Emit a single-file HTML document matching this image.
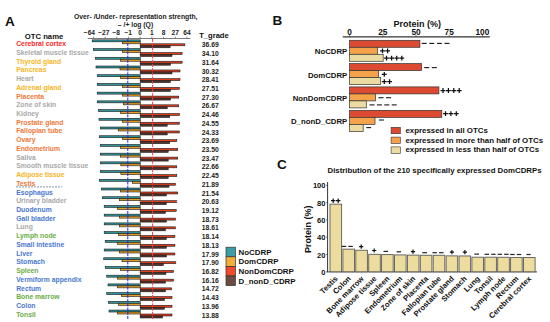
<!DOCTYPE html><html><head><meta charset="utf-8"><style>html,body{margin:0;padding:0;background:#fff;width:550px;height:322px;overflow:hidden}svg{display:block}</style></head><body>
<svg width="550" height="322" viewBox="0 0 550 322">
<text x="5" y="25.9" font-family="Liberation Sans" font-weight="bold" font-size="13.5" fill="#111">A</text>
<text x="272.5" y="25.3" font-family="Liberation Sans" font-weight="bold" font-size="13.5" fill="#111">B</text>
<text x="276.9" y="168.5" font-family="Liberation Sans" font-weight="bold" font-size="13.5" fill="#111">C</text>
<text x="74" y="19.2" font-family="Liberation Sans" font-weight="bold" font-size="6.8" fill="#222">Over- /Under- representation strength,</text>
<text x="135.5" y="26.8" font-family="Liberation Sans" font-weight="bold" font-size="6.8" fill="#222" text-anchor="middle">– /+ log (Q)</text>
<text x="83.80" y="34.8" font-family="Liberation Sans" font-weight="bold" font-size="6.6" fill="#222">−64</text>
<text x="98.20" y="34.8" font-family="Liberation Sans" font-weight="bold" font-size="6.6" fill="#222">−27</text>
<text x="112.40" y="34.8" font-family="Liberation Sans" font-weight="bold" font-size="6.6" fill="#222">−8</text>
<text x="124.40" y="34.8" font-family="Liberation Sans" font-weight="bold" font-size="6.6" fill="#222">−1</text>
<text x="140.20" y="34.8" font-family="Liberation Sans" font-weight="bold" font-size="6.6" fill="#222" text-anchor="middle">0</text>
<text x="151.88" y="34.8" font-family="Liberation Sans" font-weight="bold" font-size="6.6" fill="#222" text-anchor="middle">1</text>
<text x="163.56" y="34.8" font-family="Liberation Sans" font-weight="bold" font-size="6.6" fill="#222" text-anchor="middle">8</text>
<text x="175.24" y="34.8" font-family="Liberation Sans" font-weight="bold" font-size="6.6" fill="#222" text-anchor="middle">27</text>
<text x="186.92" y="34.8" font-family="Liberation Sans" font-weight="bold" font-size="6.6" fill="#222" text-anchor="middle">64</text>
<line x1="93.48" y1="36.6" x2="93.48" y2="38.6" stroke="#444" stroke-width="0.6"/>
<line x1="105.16" y1="36.6" x2="105.16" y2="38.6" stroke="#444" stroke-width="0.6"/>
<line x1="116.84" y1="36.6" x2="116.84" y2="38.6" stroke="#444" stroke-width="0.6"/>
<line x1="128.52" y1="36.6" x2="128.52" y2="38.6" stroke="#444" stroke-width="0.6"/>
<line x1="140.20" y1="36.6" x2="140.20" y2="38.6" stroke="#444" stroke-width="0.6"/>
<line x1="151.88" y1="36.6" x2="151.88" y2="38.6" stroke="#444" stroke-width="0.6"/>
<line x1="163.56" y1="36.6" x2="163.56" y2="38.6" stroke="#444" stroke-width="0.6"/>
<line x1="175.24" y1="36.6" x2="175.24" y2="38.6" stroke="#444" stroke-width="0.6"/>
<line x1="186.92" y1="36.6" x2="186.92" y2="38.6" stroke="#444" stroke-width="0.6"/>
<line x1="87.8" y1="38.5" x2="190.5" y2="38.5" stroke="#444" stroke-width="0.7"/>
<text x="24.8" y="39" font-family="Liberation Sans" font-weight="bold" font-size="7.7" fill="#111">OTC name</text>
<text x="199.2" y="38.4" font-family="Liberation Sans" font-weight="bold" font-size="7.6" fill="#111">T_grade</text>
<rect x="92.20" y="39.85" width="48.00" height="1.98" fill="#2e9296" stroke="#1c1c1c" stroke-width="0.6"/>
<rect x="122.40" y="41.83" width="17.80" height="1.98" fill="#e89e22" stroke="#1c1c1c" stroke-width="0.6"/>
<rect x="140.20" y="43.81" width="44.60" height="1.98" fill="#e03c1e" stroke="#1c1c1c" stroke-width="0.6"/>
<rect x="140.20" y="45.79" width="29.90" height="1.98" fill="#52342a" stroke="#1c1c1c" stroke-width="0.6"/>
<text x="16.2" y="46.20" font-family="Liberation Sans" font-weight="bold" font-size="6.8" fill="#fa2a2a">Cerebral cortex</text>
<text x="201.8" y="47.40" font-family="Liberation Sans" font-weight="bold" font-size="6.8" fill="#222">36.69</text>
<rect x="93.30" y="48.57" width="46.90" height="1.98" fill="#2e9296" stroke="#1c1c1c" stroke-width="0.6"/>
<rect x="122.40" y="50.55" width="17.80" height="1.98" fill="#e89e22" stroke="#1c1c1c" stroke-width="0.6"/>
<rect x="140.20" y="52.53" width="41.90" height="1.98" fill="#e03c1e" stroke="#1c1c1c" stroke-width="0.6"/>
<rect x="140.20" y="54.51" width="31.80" height="1.98" fill="#52342a" stroke="#1c1c1c" stroke-width="0.6"/>
<text x="16.2" y="54.93" font-family="Liberation Sans" font-weight="bold" font-size="6.8" fill="#a9a9a9">Skeletal muscle tissue</text>
<text x="201.8" y="56.12" font-family="Liberation Sans" font-weight="bold" font-size="6.8" fill="#222">34.10</text>
<rect x="95.30" y="57.28" width="44.90" height="1.98" fill="#2e9296" stroke="#1c1c1c" stroke-width="0.6"/>
<rect x="120.50" y="59.26" width="19.70" height="1.98" fill="#e89e22" stroke="#1c1c1c" stroke-width="0.6"/>
<rect x="140.20" y="61.24" width="41.90" height="1.98" fill="#e03c1e" stroke="#1c1c1c" stroke-width="0.6"/>
<rect x="140.20" y="63.22" width="30.30" height="1.98" fill="#52342a" stroke="#1c1c1c" stroke-width="0.6"/>
<text x="16.2" y="63.65" font-family="Liberation Sans" font-weight="bold" font-size="6.8" fill="#f7b51e">Thyroid gland</text>
<text x="201.8" y="64.83" font-family="Liberation Sans" font-weight="bold" font-size="6.8" fill="#222">31.64</text>
<rect x="96.00" y="66.00" width="44.20" height="1.98" fill="#2e9296" stroke="#1c1c1c" stroke-width="0.6"/>
<rect x="120.00" y="67.98" width="20.20" height="1.98" fill="#e89e22" stroke="#1c1c1c" stroke-width="0.6"/>
<rect x="140.20" y="69.96" width="39.80" height="1.98" fill="#e03c1e" stroke="#1c1c1c" stroke-width="0.6"/>
<rect x="140.20" y="71.94" width="31.80" height="1.98" fill="#52342a" stroke="#1c1c1c" stroke-width="0.6"/>
<text x="16.2" y="72.38" font-family="Liberation Sans" font-weight="bold" font-size="6.8" fill="#f7b51e">Pancreas</text>
<text x="201.8" y="73.55" font-family="Liberation Sans" font-weight="bold" font-size="6.8" fill="#222">30.32</text>
<rect x="97.20" y="74.71" width="43.00" height="1.98" fill="#2e9296" stroke="#1c1c1c" stroke-width="0.6"/>
<rect x="120.50" y="76.69" width="19.70" height="1.98" fill="#e89e22" stroke="#1c1c1c" stroke-width="0.6"/>
<rect x="140.20" y="78.67" width="39.80" height="1.98" fill="#e03c1e" stroke="#1c1c1c" stroke-width="0.6"/>
<rect x="140.20" y="80.65" width="30.30" height="1.98" fill="#52342a" stroke="#1c1c1c" stroke-width="0.6"/>
<text x="16.2" y="81.10" font-family="Liberation Sans" font-weight="bold" font-size="6.8" fill="#a9a9a9">Heart</text>
<text x="201.8" y="82.26" font-family="Liberation Sans" font-weight="bold" font-size="6.8" fill="#222">28.41</text>
<rect x="97.20" y="83.43" width="43.00" height="1.98" fill="#2e9296" stroke="#1c1c1c" stroke-width="0.6"/>
<rect x="122.40" y="85.41" width="17.80" height="1.98" fill="#e89e22" stroke="#1c1c1c" stroke-width="0.6"/>
<rect x="140.20" y="87.39" width="39.10" height="1.98" fill="#e03c1e" stroke="#1c1c1c" stroke-width="0.6"/>
<rect x="140.20" y="89.37" width="30.30" height="1.98" fill="#52342a" stroke="#1c1c1c" stroke-width="0.6"/>
<text x="16.2" y="89.83" font-family="Liberation Sans" font-weight="bold" font-size="6.8" fill="#f7b51e">Adrenal gland</text>
<text x="201.8" y="90.98" font-family="Liberation Sans" font-weight="bold" font-size="6.8" fill="#222">27.51</text>
<rect x="97.20" y="92.15" width="43.00" height="1.98" fill="#2e9296" stroke="#1c1c1c" stroke-width="0.6"/>
<rect x="122.40" y="94.13" width="17.80" height="1.98" fill="#e89e22" stroke="#1c1c1c" stroke-width="0.6"/>
<rect x="140.20" y="96.11" width="38.50" height="1.98" fill="#e03c1e" stroke="#1c1c1c" stroke-width="0.6"/>
<rect x="140.20" y="98.09" width="30.30" height="1.98" fill="#52342a" stroke="#1c1c1c" stroke-width="0.6"/>
<text x="16.2" y="98.55" font-family="Liberation Sans" font-weight="bold" font-size="6.8" fill="#f07838">Placenta</text>
<text x="201.8" y="99.70" font-family="Liberation Sans" font-weight="bold" font-size="6.8" fill="#222">27.30</text>
<rect x="97.20" y="100.86" width="43.00" height="1.98" fill="#2e9296" stroke="#1c1c1c" stroke-width="0.6"/>
<rect x="123.30" y="102.84" width="16.90" height="1.98" fill="#e89e22" stroke="#1c1c1c" stroke-width="0.6"/>
<rect x="140.20" y="104.82" width="38.50" height="1.98" fill="#e03c1e" stroke="#1c1c1c" stroke-width="0.6"/>
<rect x="140.20" y="106.80" width="27.00" height="1.98" fill="#52342a" stroke="#1c1c1c" stroke-width="0.6"/>
<text x="16.2" y="107.28" font-family="Liberation Sans" font-weight="bold" font-size="6.8" fill="#a9a9a9">Zone of skin</text>
<text x="201.8" y="108.41" font-family="Liberation Sans" font-weight="bold" font-size="6.8" fill="#222">26.67</text>
<rect x="98.50" y="109.58" width="41.70" height="1.98" fill="#2e9296" stroke="#1c1c1c" stroke-width="0.6"/>
<rect x="120.50" y="111.56" width="19.70" height="1.98" fill="#e89e22" stroke="#1c1c1c" stroke-width="0.6"/>
<rect x="140.20" y="113.54" width="39.40" height="1.98" fill="#e03c1e" stroke="#1c1c1c" stroke-width="0.6"/>
<rect x="140.20" y="115.52" width="29.50" height="1.98" fill="#52342a" stroke="#1c1c1c" stroke-width="0.6"/>
<text x="16.2" y="116.00" font-family="Liberation Sans" font-weight="bold" font-size="6.8" fill="#a9a9a9">Kidney</text>
<text x="201.8" y="117.13" font-family="Liberation Sans" font-weight="bold" font-size="6.8" fill="#222">24.46</text>
<rect x="99.00" y="118.29" width="41.20" height="1.98" fill="#2e9296" stroke="#1c1c1c" stroke-width="0.6"/>
<rect x="122.40" y="120.27" width="17.80" height="1.98" fill="#e89e22" stroke="#1c1c1c" stroke-width="0.6"/>
<rect x="140.20" y="122.25" width="39.10" height="1.98" fill="#e03c1e" stroke="#1c1c1c" stroke-width="0.6"/>
<rect x="140.20" y="124.23" width="27.00" height="1.98" fill="#52342a" stroke="#1c1c1c" stroke-width="0.6"/>
<text x="16.2" y="124.72" font-family="Liberation Sans" font-weight="bold" font-size="6.8" fill="#f07838">Prostate gland</text>
<text x="201.8" y="125.84" font-family="Liberation Sans" font-weight="bold" font-size="6.8" fill="#222">24.55</text>
<rect x="100.40" y="127.01" width="39.80" height="1.98" fill="#2e9296" stroke="#1c1c1c" stroke-width="0.6"/>
<rect x="118.20" y="128.99" width="22.00" height="1.98" fill="#e89e22" stroke="#1c1c1c" stroke-width="0.6"/>
<rect x="140.20" y="130.97" width="39.10" height="1.98" fill="#e03c1e" stroke="#1c1c1c" stroke-width="0.6"/>
<rect x="140.20" y="132.95" width="27.00" height="1.98" fill="#52342a" stroke="#1c1c1c" stroke-width="0.6"/>
<text x="16.2" y="133.45" font-family="Liberation Sans" font-weight="bold" font-size="6.8" fill="#f07838">Fallopian tube</text>
<text x="201.8" y="134.56" font-family="Liberation Sans" font-weight="bold" font-size="6.8" fill="#222">24.33</text>
<rect x="99.50" y="135.73" width="40.70" height="1.98" fill="#2e9296" stroke="#1c1c1c" stroke-width="0.6"/>
<rect x="122.40" y="137.71" width="17.80" height="1.98" fill="#e89e22" stroke="#1c1c1c" stroke-width="0.6"/>
<rect x="140.20" y="139.69" width="36.60" height="1.98" fill="#e03c1e" stroke="#1c1c1c" stroke-width="0.6"/>
<rect x="140.20" y="141.67" width="29.50" height="1.98" fill="#52342a" stroke="#1c1c1c" stroke-width="0.6"/>
<text x="16.2" y="142.18" font-family="Liberation Sans" font-weight="bold" font-size="6.8" fill="#f07838">Ovary</text>
<text x="201.8" y="143.28" font-family="Liberation Sans" font-weight="bold" font-size="6.8" fill="#222">23.69</text>
<rect x="100.40" y="144.44" width="39.80" height="1.98" fill="#2e9296" stroke="#1c1c1c" stroke-width="0.6"/>
<rect x="120.50" y="146.42" width="19.70" height="1.98" fill="#e89e22" stroke="#1c1c1c" stroke-width="0.6"/>
<rect x="140.20" y="148.40" width="37.50" height="1.98" fill="#e03c1e" stroke="#1c1c1c" stroke-width="0.6"/>
<rect x="140.20" y="150.38" width="28.00" height="1.98" fill="#52342a" stroke="#1c1c1c" stroke-width="0.6"/>
<text x="16.2" y="150.90" font-family="Liberation Sans" font-weight="bold" font-size="6.8" fill="#f07838">Endometrium</text>
<text x="201.8" y="151.99" font-family="Liberation Sans" font-weight="bold" font-size="6.8" fill="#222">23.50</text>
<rect x="100.40" y="153.16" width="39.80" height="1.98" fill="#2e9296" stroke="#1c1c1c" stroke-width="0.6"/>
<rect x="120.50" y="155.14" width="19.70" height="1.98" fill="#e89e22" stroke="#1c1c1c" stroke-width="0.6"/>
<rect x="140.20" y="157.12" width="37.50" height="1.98" fill="#e03c1e" stroke="#1c1c1c" stroke-width="0.6"/>
<rect x="140.20" y="159.10" width="28.00" height="1.98" fill="#52342a" stroke="#1c1c1c" stroke-width="0.6"/>
<text x="16.2" y="159.62" font-family="Liberation Sans" font-weight="bold" font-size="6.8" fill="#a9a9a9">Saliva</text>
<text x="201.8" y="160.71" font-family="Liberation Sans" font-weight="bold" font-size="6.8" fill="#222">23.47</text>
<rect x="100.40" y="161.87" width="39.80" height="1.98" fill="#2e9296" stroke="#1c1c1c" stroke-width="0.6"/>
<rect x="120.80" y="163.85" width="19.40" height="1.98" fill="#e89e22" stroke="#1c1c1c" stroke-width="0.6"/>
<rect x="140.20" y="165.83" width="36.60" height="1.98" fill="#e03c1e" stroke="#1c1c1c" stroke-width="0.6"/>
<rect x="140.20" y="167.81" width="28.00" height="1.98" fill="#52342a" stroke="#1c1c1c" stroke-width="0.6"/>
<text x="16.2" y="168.35" font-family="Liberation Sans" font-weight="bold" font-size="6.8" fill="#a9a9a9">Smooth muscle tissue</text>
<text x="201.8" y="169.42" font-family="Liberation Sans" font-weight="bold" font-size="6.8" fill="#222">22.66</text>
<rect x="100.40" y="170.59" width="39.80" height="1.98" fill="#2e9296" stroke="#1c1c1c" stroke-width="0.6"/>
<rect x="120.80" y="172.57" width="19.40" height="1.98" fill="#e89e22" stroke="#1c1c1c" stroke-width="0.6"/>
<rect x="140.20" y="174.55" width="36.60" height="1.98" fill="#e03c1e" stroke="#1c1c1c" stroke-width="0.6"/>
<rect x="140.20" y="176.53" width="28.00" height="1.98" fill="#52342a" stroke="#1c1c1c" stroke-width="0.6"/>
<text x="16.2" y="177.07" font-family="Liberation Sans" font-weight="bold" font-size="6.8" fill="#f7b51e">Adipose tissue</text>
<text x="201.8" y="178.14" font-family="Liberation Sans" font-weight="bold" font-size="6.8" fill="#222">22.45</text>
<rect x="99.50" y="179.31" width="40.70" height="1.98" fill="#2e9296" stroke="#1c1c1c" stroke-width="0.6"/>
<rect x="132.30" y="181.29" width="7.90" height="1.98" fill="#e89e22" stroke="#1c1c1c" stroke-width="0.6"/>
<rect x="140.20" y="183.27" width="35.20" height="1.98" fill="#e03c1e" stroke="#1c1c1c" stroke-width="0.6"/>
<rect x="140.20" y="185.25" width="28.80" height="1.98" fill="#52342a" stroke="#1c1c1c" stroke-width="0.6"/>
<text x="16.2" y="185.80" font-family="Liberation Sans" font-weight="bold" font-size="6.8" fill="#f07838">Testis</text>
<text x="201.8" y="186.86" font-family="Liberation Sans" font-weight="bold" font-size="6.8" fill="#222">21.89</text>
<rect x="101.40" y="188.02" width="38.80" height="1.98" fill="#2e9296" stroke="#1c1c1c" stroke-width="0.6"/>
<rect x="120.50" y="190.00" width="19.70" height="1.98" fill="#e89e22" stroke="#1c1c1c" stroke-width="0.6"/>
<rect x="140.20" y="191.98" width="37.50" height="1.98" fill="#e03c1e" stroke="#1c1c1c" stroke-width="0.6"/>
<rect x="140.20" y="193.96" width="26.10" height="1.98" fill="#52342a" stroke="#1c1c1c" stroke-width="0.6"/>
<text x="16.2" y="194.52" font-family="Liberation Sans" font-weight="bold" font-size="6.8" fill="#4878d0">Esophagus</text>
<text x="201.8" y="195.57" font-family="Liberation Sans" font-weight="bold" font-size="6.8" fill="#222">21.54</text>
<rect x="102.30" y="196.74" width="37.90" height="1.98" fill="#2e9296" stroke="#1c1c1c" stroke-width="0.6"/>
<rect x="119.50" y="198.72" width="20.70" height="1.98" fill="#e89e22" stroke="#1c1c1c" stroke-width="0.6"/>
<rect x="140.20" y="200.70" width="36.60" height="1.98" fill="#e03c1e" stroke="#1c1c1c" stroke-width="0.6"/>
<rect x="140.20" y="202.68" width="26.10" height="1.98" fill="#52342a" stroke="#1c1c1c" stroke-width="0.6"/>
<text x="16.2" y="203.25" font-family="Liberation Sans" font-weight="bold" font-size="6.8" fill="#a9a9a9">Urinary bladder</text>
<text x="201.8" y="204.29" font-family="Liberation Sans" font-weight="bold" font-size="6.8" fill="#222">20.63</text>
<rect x="104.20" y="205.45" width="36.00" height="1.98" fill="#2e9296" stroke="#1c1c1c" stroke-width="0.6"/>
<rect x="117.60" y="207.43" width="22.60" height="1.98" fill="#e89e22" stroke="#1c1c1c" stroke-width="0.6"/>
<rect x="140.20" y="209.41" width="36.00" height="1.98" fill="#e03c1e" stroke="#1c1c1c" stroke-width="0.6"/>
<rect x="140.20" y="211.39" width="25.10" height="1.98" fill="#52342a" stroke="#1c1c1c" stroke-width="0.6"/>
<text x="16.2" y="211.98" font-family="Liberation Sans" font-weight="bold" font-size="6.8" fill="#4878d0">Duodenum</text>
<text x="201.8" y="213.00" font-family="Liberation Sans" font-weight="bold" font-size="6.8" fill="#222">19.12</text>
<rect x="104.20" y="214.17" width="36.00" height="1.98" fill="#2e9296" stroke="#1c1c1c" stroke-width="0.6"/>
<rect x="119.50" y="216.15" width="20.70" height="1.98" fill="#e89e22" stroke="#1c1c1c" stroke-width="0.6"/>
<rect x="140.20" y="218.13" width="35.20" height="1.98" fill="#e03c1e" stroke="#1c1c1c" stroke-width="0.6"/>
<rect x="140.20" y="220.11" width="26.10" height="1.98" fill="#52342a" stroke="#1c1c1c" stroke-width="0.6"/>
<text x="16.2" y="220.70" font-family="Liberation Sans" font-weight="bold" font-size="6.8" fill="#4878d0">Gall bladder</text>
<text x="201.8" y="221.72" font-family="Liberation Sans" font-weight="bold" font-size="6.8" fill="#222">18.73</text>
<rect x="104.20" y="222.89" width="36.00" height="1.98" fill="#2e9296" stroke="#1c1c1c" stroke-width="0.6"/>
<rect x="119.50" y="224.87" width="20.70" height="1.98" fill="#e89e22" stroke="#1c1c1c" stroke-width="0.6"/>
<rect x="140.20" y="226.85" width="35.20" height="1.98" fill="#e03c1e" stroke="#1c1c1c" stroke-width="0.6"/>
<rect x="140.20" y="228.83" width="25.10" height="1.98" fill="#52342a" stroke="#1c1c1c" stroke-width="0.6"/>
<text x="16.2" y="229.43" font-family="Liberation Sans" font-weight="bold" font-size="6.8" fill="#a9a9a9">Lung</text>
<text x="201.8" y="230.44" font-family="Liberation Sans" font-weight="bold" font-size="6.8" fill="#222">18.61</text>
<rect x="104.20" y="231.60" width="36.00" height="1.98" fill="#2e9296" stroke="#1c1c1c" stroke-width="0.6"/>
<rect x="118.50" y="233.58" width="21.70" height="1.98" fill="#e89e22" stroke="#1c1c1c" stroke-width="0.6"/>
<rect x="140.20" y="235.56" width="34.70" height="1.98" fill="#e03c1e" stroke="#1c1c1c" stroke-width="0.6"/>
<rect x="140.20" y="237.54" width="26.10" height="1.98" fill="#52342a" stroke="#1c1c1c" stroke-width="0.6"/>
<text x="16.2" y="238.15" font-family="Liberation Sans" font-weight="bold" font-size="6.8" fill="#6aae48">Lymph node</text>
<text x="201.8" y="239.15" font-family="Liberation Sans" font-weight="bold" font-size="6.8" fill="#222">18.14</text>
<rect x="105.20" y="240.32" width="35.00" height="1.98" fill="#2e9296" stroke="#1c1c1c" stroke-width="0.6"/>
<rect x="117.60" y="242.30" width="22.60" height="1.98" fill="#e89e22" stroke="#1c1c1c" stroke-width="0.6"/>
<rect x="140.20" y="244.28" width="34.70" height="1.98" fill="#e03c1e" stroke="#1c1c1c" stroke-width="0.6"/>
<rect x="140.20" y="246.26" width="26.10" height="1.98" fill="#52342a" stroke="#1c1c1c" stroke-width="0.6"/>
<text x="16.2" y="246.88" font-family="Liberation Sans" font-weight="bold" font-size="6.8" fill="#4878d0">Small intestine</text>
<text x="201.8" y="247.87" font-family="Liberation Sans" font-weight="bold" font-size="6.8" fill="#222">18.13</text>
<rect x="104.20" y="249.03" width="36.00" height="1.98" fill="#2e9296" stroke="#1c1c1c" stroke-width="0.6"/>
<rect x="119.50" y="251.01" width="20.70" height="1.98" fill="#e89e22" stroke="#1c1c1c" stroke-width="0.6"/>
<rect x="140.20" y="252.99" width="34.70" height="1.98" fill="#e03c1e" stroke="#1c1c1c" stroke-width="0.6"/>
<rect x="140.20" y="254.97" width="26.10" height="1.98" fill="#52342a" stroke="#1c1c1c" stroke-width="0.6"/>
<text x="16.2" y="255.60" font-family="Liberation Sans" font-weight="bold" font-size="6.8" fill="#4878d0">Liver</text>
<text x="201.8" y="256.58" font-family="Liberation Sans" font-weight="bold" font-size="6.8" fill="#222">17.99</text>
<rect x="103.70" y="257.75" width="36.50" height="1.98" fill="#2e9296" stroke="#1c1c1c" stroke-width="0.6"/>
<rect x="122.00" y="259.73" width="18.20" height="1.98" fill="#e89e22" stroke="#1c1c1c" stroke-width="0.6"/>
<rect x="140.20" y="261.71" width="35.60" height="1.98" fill="#e03c1e" stroke="#1c1c1c" stroke-width="0.6"/>
<rect x="140.20" y="263.69" width="23.20" height="1.98" fill="#52342a" stroke="#1c1c1c" stroke-width="0.6"/>
<text x="16.2" y="264.32" font-family="Liberation Sans" font-weight="bold" font-size="6.8" fill="#4878d0">Stomach</text>
<text x="201.8" y="265.30" font-family="Liberation Sans" font-weight="bold" font-size="6.8" fill="#222">17.90</text>
<rect x="105.20" y="266.47" width="35.00" height="1.98" fill="#2e9296" stroke="#1c1c1c" stroke-width="0.6"/>
<rect x="120.50" y="268.45" width="19.70" height="1.98" fill="#e89e22" stroke="#1c1c1c" stroke-width="0.6"/>
<rect x="140.20" y="270.43" width="33.30" height="1.98" fill="#e03c1e" stroke="#1c1c1c" stroke-width="0.6"/>
<rect x="140.20" y="272.41" width="25.70" height="1.98" fill="#52342a" stroke="#1c1c1c" stroke-width="0.6"/>
<text x="16.2" y="273.05" font-family="Liberation Sans" font-weight="bold" font-size="6.8" fill="#6aae48">Spleen</text>
<text x="201.8" y="274.02" font-family="Liberation Sans" font-weight="bold" font-size="6.8" fill="#222">16.82</text>
<rect x="106.70" y="275.18" width="33.50" height="1.98" fill="#2e9296" stroke="#1c1c1c" stroke-width="0.6"/>
<rect x="117.60" y="277.16" width="22.60" height="1.98" fill="#e89e22" stroke="#1c1c1c" stroke-width="0.6"/>
<rect x="140.20" y="279.14" width="33.30" height="1.98" fill="#e03c1e" stroke="#1c1c1c" stroke-width="0.6"/>
<rect x="140.20" y="281.12" width="25.10" height="1.98" fill="#52342a" stroke="#1c1c1c" stroke-width="0.6"/>
<text x="16.2" y="281.77" font-family="Liberation Sans" font-weight="bold" font-size="6.8" fill="#4878d0">Vermiform appendix</text>
<text x="201.8" y="282.73" font-family="Liberation Sans" font-weight="bold" font-size="6.8" fill="#222">16.16</text>
<rect x="108.00" y="283.90" width="32.20" height="1.98" fill="#2e9296" stroke="#1c1c1c" stroke-width="0.6"/>
<rect x="117.60" y="285.88" width="22.60" height="1.98" fill="#e89e22" stroke="#1c1c1c" stroke-width="0.6"/>
<rect x="140.20" y="287.86" width="31.40" height="1.98" fill="#e03c1e" stroke="#1c1c1c" stroke-width="0.6"/>
<rect x="140.20" y="289.84" width="25.10" height="1.98" fill="#52342a" stroke="#1c1c1c" stroke-width="0.6"/>
<text x="16.2" y="290.50" font-family="Liberation Sans" font-weight="bold" font-size="6.8" fill="#4878d0">Rectum</text>
<text x="201.8" y="291.45" font-family="Liberation Sans" font-weight="bold" font-size="6.8" fill="#222">14.72</text>
<rect x="106.70" y="292.61" width="33.50" height="1.98" fill="#2e9296" stroke="#1c1c1c" stroke-width="0.6"/>
<rect x="121.40" y="294.59" width="18.80" height="1.98" fill="#e89e22" stroke="#1c1c1c" stroke-width="0.6"/>
<rect x="140.20" y="296.57" width="31.80" height="1.98" fill="#e03c1e" stroke="#1c1c1c" stroke-width="0.6"/>
<rect x="140.20" y="298.55" width="24.20" height="1.98" fill="#52342a" stroke="#1c1c1c" stroke-width="0.6"/>
<text x="16.2" y="299.22" font-family="Liberation Sans" font-weight="bold" font-size="6.8" fill="#6aae48">Bone marrow</text>
<text x="201.8" y="300.16" font-family="Liberation Sans" font-weight="bold" font-size="6.8" fill="#222">14.43</text>
<rect x="108.60" y="301.33" width="31.60" height="1.98" fill="#2e9296" stroke="#1c1c1c" stroke-width="0.6"/>
<rect x="118.50" y="303.31" width="21.70" height="1.98" fill="#e89e22" stroke="#1c1c1c" stroke-width="0.6"/>
<rect x="140.20" y="305.29" width="31.80" height="1.98" fill="#e03c1e" stroke="#1c1c1c" stroke-width="0.6"/>
<rect x="140.20" y="307.27" width="24.20" height="1.98" fill="#52342a" stroke="#1c1c1c" stroke-width="0.6"/>
<text x="16.2" y="307.95" font-family="Liberation Sans" font-weight="bold" font-size="6.8" fill="#4878d0">Colon</text>
<text x="201.8" y="308.88" font-family="Liberation Sans" font-weight="bold" font-size="6.8" fill="#222">13.96</text>
<rect x="109.00" y="310.05" width="31.20" height="1.98" fill="#2e9296" stroke="#1c1c1c" stroke-width="0.6"/>
<rect x="117.60" y="312.03" width="22.60" height="1.98" fill="#e89e22" stroke="#1c1c1c" stroke-width="0.6"/>
<rect x="140.20" y="314.01" width="31.80" height="1.98" fill="#e03c1e" stroke="#1c1c1c" stroke-width="0.6"/>
<rect x="140.20" y="315.99" width="22.30" height="1.98" fill="#52342a" stroke="#1c1c1c" stroke-width="0.6"/>
<text x="16.2" y="316.67" font-family="Liberation Sans" font-weight="bold" font-size="6.8" fill="#6aae48">Tonsil</text>
<text x="201.8" y="317.60" font-family="Liberation Sans" font-weight="bold" font-size="6.8" fill="#222">13.88</text>
<line x1="127.8" y1="38.8" x2="127.8" y2="320" stroke="#1e1eff" stroke-width="1" stroke-dasharray="3,1.2"/>
<line x1="152.6" y1="38.8" x2="152.6" y2="320" stroke="#ff3a3a" stroke-width="1" stroke-dasharray="3,1.2"/>
<line x1="16" y1="186.9" x2="62.3" y2="186.9" stroke="#6c7898" stroke-width="0.8" stroke-dasharray="2,1"/>
<rect x="226" y="247.20" width="9.4" height="9.6" fill="#3a9ea4" stroke="#333" stroke-width="0.7"/>
<text x="238.6" y="254.70" font-family="Liberation Sans" font-weight="bold" font-size="7.9" fill="#111">NoCDRP</text>
<rect x="226" y="256.80" width="9.4" height="9.6" fill="#f2ae38" stroke="#333" stroke-width="0.7"/>
<text x="238.6" y="264.30" font-family="Liberation Sans" font-weight="bold" font-size="7.9" fill="#111">DomCDRP</text>
<rect x="226" y="266.40" width="9.4" height="9.6" fill="#f04a2a" stroke="#333" stroke-width="0.7"/>
<text x="238.6" y="273.90" font-family="Liberation Sans" font-weight="bold" font-size="7.9" fill="#111">NonDomCDRP</text>
<rect x="226" y="276.00" width="9.4" height="9.6" fill="#6a4c40" stroke="#333" stroke-width="0.7"/>
<text x="238.6" y="283.50" font-family="Liberation Sans" font-weight="bold" font-size="7.9" fill="#111">D_nonD_CDRP</text>
<text x="417.2" y="26.6" font-family="Liberation Sans" font-weight="bold" font-size="9" fill="#111" text-anchor="middle">Protein (%)</text>
<text x="349.60" y="35" font-family="Liberation Sans" font-weight="bold" font-size="8.3" fill="#111" text-anchor="middle">0</text>
<line x1="349.60" y1="35" x2="349.60" y2="37" stroke="#333" stroke-width="0.6"/>
<text x="382.80" y="35" font-family="Liberation Sans" font-weight="bold" font-size="8.3" fill="#111" text-anchor="middle">25</text>
<line x1="382.80" y1="35" x2="382.80" y2="37" stroke="#333" stroke-width="0.6"/>
<text x="416.00" y="35" font-family="Liberation Sans" font-weight="bold" font-size="8.3" fill="#111" text-anchor="middle">50</text>
<line x1="416.00" y1="35" x2="416.00" y2="37" stroke="#333" stroke-width="0.6"/>
<text x="449.20" y="35" font-family="Liberation Sans" font-weight="bold" font-size="8.3" fill="#111" text-anchor="middle">75</text>
<line x1="449.20" y1="35" x2="449.20" y2="37" stroke="#333" stroke-width="0.6"/>
<text x="482.40" y="35" font-family="Liberation Sans" font-weight="bold" font-size="8.3" fill="#111" text-anchor="middle">100</text>
<line x1="482.40" y1="35" x2="482.40" y2="37" stroke="#333" stroke-width="0.6"/>
<line x1="342.7" y1="36.9" x2="489.8" y2="36.9" stroke="#333" stroke-width="1.1"/>
<rect x="349.60" y="40.30" width="70.30" height="7" fill="#dc4a32" stroke="#333" stroke-width="0.7"/>
<rect x="349.60" y="47.30" width="28.10" height="7" fill="#f5a24a" stroke="#333" stroke-width="0.7"/>
<rect x="349.60" y="54.30" width="33.60" height="7" fill="#ecdba0" stroke="#333" stroke-width="0.7"/>
<text x="347.3" y="54.20" font-family="Liberation Sans" font-weight="bold" font-size="7.8" fill="#111" text-anchor="end">NoCDRP</text>
<rect x="349.60" y="63.60" width="72.00" height="7" fill="#dc4a32" stroke="#333" stroke-width="0.7"/>
<rect x="349.60" y="70.60" width="29.00" height="7" fill="#f5a24a" stroke="#333" stroke-width="0.7"/>
<rect x="349.60" y="77.60" width="31.10" height="7" fill="#ecdba0" stroke="#333" stroke-width="0.7"/>
<text x="347.3" y="77.50" font-family="Liberation Sans" font-weight="bold" font-size="7.8" fill="#111" text-anchor="end">DomCDRP</text>
<rect x="349.60" y="86.90" width="89.30" height="7" fill="#dc4a32" stroke="#333" stroke-width="0.7"/>
<rect x="349.60" y="93.90" width="25.80" height="7" fill="#f5a24a" stroke="#333" stroke-width="0.7"/>
<rect x="349.60" y="100.90" width="16.70" height="7" fill="#ecdba0" stroke="#333" stroke-width="0.7"/>
<text x="347.3" y="100.80" font-family="Liberation Sans" font-weight="bold" font-size="7.8" fill="#111" text-anchor="end">NonDomCDRP</text>
<rect x="349.60" y="110.40" width="92.20" height="7" fill="#dc4a32" stroke="#333" stroke-width="0.7"/>
<rect x="349.60" y="117.40" width="25.40" height="7" fill="#f5a24a" stroke="#333" stroke-width="0.7"/>
<rect x="349.60" y="124.40" width="13.60" height="7" fill="#ecdba0" stroke="#333" stroke-width="0.7"/>
<text x="347.3" y="124.30" font-family="Liberation Sans" font-weight="bold" font-size="7.8" fill="#111" text-anchor="end">D_nonD_CDRP</text>
<line x1="421.70" y1="43.40" x2="426.70" y2="43.40" stroke="#222" stroke-width="1.15"/>
<line x1="429.30" y1="43.40" x2="434.30" y2="43.40" stroke="#222" stroke-width="1.15"/>
<line x1="436.90" y1="43.40" x2="441.90" y2="43.40" stroke="#222" stroke-width="1.15"/>
<line x1="444.50" y1="43.40" x2="449.50" y2="43.40" stroke="#222" stroke-width="1.15"/>
<path d="M380.10 50.90H384.90M382.50 48.50V53.30" stroke="#111" stroke-width="1.25" fill="none"/>
<path d="M385.20 50.90H390.00M387.60 48.50V53.30" stroke="#111" stroke-width="1.25" fill="none"/>
<path d="M384.10 58.20H388.90M386.50 55.80V60.60" stroke="#111" stroke-width="1.25" fill="none"/>
<path d="M389.20 58.20H394.00M391.60 55.80V60.60" stroke="#111" stroke-width="1.25" fill="none"/>
<path d="M394.30 58.20H399.10M396.70 55.80V60.60" stroke="#111" stroke-width="1.25" fill="none"/>
<path d="M399.40 58.20H404.20M401.80 55.80V60.60" stroke="#111" stroke-width="1.25" fill="none"/>
<line x1="424.20" y1="67.60" x2="429.20" y2="67.60" stroke="#222" stroke-width="1.15"/>
<line x1="431.80" y1="67.60" x2="436.80" y2="67.60" stroke="#222" stroke-width="1.15"/>
<path d="M381.90 74.30H386.70M384.30 71.90V76.70" stroke="#111" stroke-width="1.25" fill="none"/>
<path d="M381.90 81.60H386.70M384.30 79.20V84.00" stroke="#111" stroke-width="1.25" fill="none"/>
<path d="M387.20 81.60H392.00M389.60 79.20V84.00" stroke="#111" stroke-width="1.25" fill="none"/>
<path d="M440.60 90.50H445.40M443.00 88.10V92.90" stroke="#111" stroke-width="1.25" fill="none"/>
<path d="M446.00 90.50H450.80M448.40 88.10V92.90" stroke="#111" stroke-width="1.25" fill="none"/>
<path d="M451.40 90.50H456.20M453.80 88.10V92.90" stroke="#111" stroke-width="1.25" fill="none"/>
<path d="M456.80 90.50H461.60M459.20 88.10V92.90" stroke="#111" stroke-width="1.25" fill="none"/>
<line x1="378.50" y1="97.70" x2="383.50" y2="97.70" stroke="#222" stroke-width="1.15"/>
<line x1="386.10" y1="97.70" x2="391.10" y2="97.70" stroke="#222" stroke-width="1.15"/>
<line x1="369.50" y1="104.90" x2="374.50" y2="104.90" stroke="#222" stroke-width="1.15"/>
<line x1="376.90" y1="104.90" x2="381.90" y2="104.90" stroke="#222" stroke-width="1.15"/>
<line x1="384.30" y1="104.90" x2="389.30" y2="104.90" stroke="#222" stroke-width="1.15"/>
<line x1="391.70" y1="104.90" x2="396.70" y2="104.90" stroke="#222" stroke-width="1.15"/>
<path d="M443.10 113.60H447.90M445.50 111.20V116.00" stroke="#111" stroke-width="1.25" fill="none"/>
<path d="M448.50 113.60H453.30M450.90 111.20V116.00" stroke="#111" stroke-width="1.25" fill="none"/>
<path d="M453.90 113.60H458.70M456.30 111.20V116.00" stroke="#111" stroke-width="1.25" fill="none"/>
<line x1="379.00" y1="120.00" x2="383.90" y2="120.00" stroke="#222" stroke-width="1.15"/>
<line x1="366.30" y1="127.60" x2="371.10" y2="127.60" stroke="#222" stroke-width="1.15"/>
<rect x="391.1" y="127.30" width="9.2" height="6.4" fill="#dc4a32" stroke="#333" stroke-width="0.6"/>
<text x="405.4" y="132.80" font-family="Liberation Sans" font-weight="bold" font-size="7.9" fill="#111">expressed in all OTCs</text>
<rect x="391.1" y="137.10" width="9.2" height="6.4" fill="#f5a24a" stroke="#333" stroke-width="0.6"/>
<text x="405.4" y="142.60" font-family="Liberation Sans" font-weight="bold" font-size="7.9" fill="#111">expressed in more than half of OTCs</text>
<rect x="391.1" y="146.90" width="9.2" height="6.4" fill="#ecdba0" stroke="#333" stroke-width="0.6"/>
<text x="405.4" y="152.40" font-family="Liberation Sans" font-weight="bold" font-size="7.9" fill="#111">expressed in less than half of OTCs</text>
<text x="327.5" y="173.2" font-family="Liberation Sans" font-weight="bold" font-size="7.84" fill="#111">Distribution of the 210 specifically expressed DomCDRPs</text>
<text x="325.4" y="274.90" font-family="Liberation Sans" font-weight="bold" font-size="7.5" fill="#111" text-anchor="end">0</text>
<line x1="326" y1="271.80" x2="327.6" y2="271.80" stroke="#333" stroke-width="0.6"/>
<text x="325.4" y="257.60" font-family="Liberation Sans" font-weight="bold" font-size="7.5" fill="#111" text-anchor="end">20</text>
<line x1="326" y1="254.50" x2="327.6" y2="254.50" stroke="#333" stroke-width="0.6"/>
<text x="325.4" y="240.30" font-family="Liberation Sans" font-weight="bold" font-size="7.5" fill="#111" text-anchor="end">40</text>
<line x1="326" y1="237.20" x2="327.6" y2="237.20" stroke="#333" stroke-width="0.6"/>
<text x="325.4" y="223.00" font-family="Liberation Sans" font-weight="bold" font-size="7.5" fill="#111" text-anchor="end">60</text>
<line x1="326" y1="219.90" x2="327.6" y2="219.90" stroke="#333" stroke-width="0.6"/>
<text x="325.4" y="205.70" font-family="Liberation Sans" font-weight="bold" font-size="7.5" fill="#111" text-anchor="end">80</text>
<line x1="326" y1="202.60" x2="327.6" y2="202.60" stroke="#333" stroke-width="0.6"/>
<text x="325.4" y="188.40" font-family="Liberation Sans" font-weight="bold" font-size="7.5" fill="#111" text-anchor="end">100</text>
<line x1="326" y1="185.30" x2="327.6" y2="185.30" stroke="#333" stroke-width="0.6"/>
<line x1="327.6" y1="182" x2="327.6" y2="272.2" stroke="#333" stroke-width="1"/>
<line x1="327.2" y1="271.9" x2="537" y2="271.9" stroke="#333" stroke-width="0.9"/>
<text transform="translate(311.3,229.3) rotate(-90)" font-family="Liberation Sans" font-weight="bold" font-size="9" fill="#111" text-anchor="middle">Protein (%)</text>
<rect x="330.00" y="204.16" width="11.6" height="67.64" fill="#ecdc9e" stroke="#5c5c5c" stroke-width="0.9"/>
<text transform="translate(338.40,279.2) rotate(-45)" font-family="Liberation Sans" font-weight="bold" font-size="7.7" fill="#111" text-anchor="end">Testis</text>
<rect x="342.90" y="249.14" width="11.6" height="22.66" fill="#ecdc9e" stroke="#5c5c5c" stroke-width="0.9"/>
<text transform="translate(351.30,279.2) rotate(-45)" font-family="Liberation Sans" font-weight="bold" font-size="7.7" fill="#111" text-anchor="end">Colon</text>
<rect x="355.80" y="250.26" width="11.6" height="21.54" fill="#ecdc9e" stroke="#5c5c5c" stroke-width="0.9"/>
<text transform="translate(364.20,279.2) rotate(-45)" font-family="Liberation Sans" font-weight="bold" font-size="7.7" fill="#111" text-anchor="end">Bone marrow</text>
<rect x="368.70" y="254.33" width="11.6" height="17.47" fill="#ecdc9e" stroke="#5c5c5c" stroke-width="0.9"/>
<text transform="translate(377.10,279.2) rotate(-45)" font-family="Liberation Sans" font-weight="bold" font-size="7.7" fill="#111" text-anchor="end">Adipose tissue</text>
<rect x="381.60" y="254.59" width="11.6" height="17.21" fill="#ecdc9e" stroke="#5c5c5c" stroke-width="0.9"/>
<text transform="translate(390.00,279.2) rotate(-45)" font-family="Liberation Sans" font-weight="bold" font-size="7.7" fill="#111" text-anchor="end">Spleen</text>
<rect x="394.50" y="254.93" width="11.6" height="16.87" fill="#ecdc9e" stroke="#5c5c5c" stroke-width="0.9"/>
<text transform="translate(402.90,279.2) rotate(-45)" font-family="Liberation Sans" font-weight="bold" font-size="7.7" fill="#111" text-anchor="end">Endometrium</text>
<rect x="407.40" y="255.11" width="11.6" height="16.69" fill="#ecdc9e" stroke="#5c5c5c" stroke-width="0.9"/>
<text transform="translate(415.80,279.2) rotate(-45)" font-family="Liberation Sans" font-weight="bold" font-size="7.7" fill="#111" text-anchor="end">Zone of skin</text>
<rect x="420.30" y="255.28" width="11.6" height="16.52" fill="#ecdc9e" stroke="#5c5c5c" stroke-width="0.9"/>
<text transform="translate(428.70,279.2) rotate(-45)" font-family="Liberation Sans" font-weight="bold" font-size="7.7" fill="#111" text-anchor="end">Placenta</text>
<rect x="433.20" y="255.28" width="11.6" height="16.52" fill="#ecdc9e" stroke="#5c5c5c" stroke-width="0.9"/>
<text transform="translate(441.60,279.2) rotate(-45)" font-family="Liberation Sans" font-weight="bold" font-size="7.7" fill="#111" text-anchor="end">Fallopian tube</text>
<rect x="446.10" y="255.88" width="11.6" height="15.92" fill="#ecdc9e" stroke="#5c5c5c" stroke-width="0.9"/>
<text transform="translate(454.50,279.2) rotate(-45)" font-family="Liberation Sans" font-weight="bold" font-size="7.7" fill="#111" text-anchor="end">Prostate gland</text>
<rect x="459.00" y="255.97" width="11.6" height="15.83" fill="#ecdc9e" stroke="#5c5c5c" stroke-width="0.9"/>
<text transform="translate(467.40,279.2) rotate(-45)" font-family="Liberation Sans" font-weight="bold" font-size="7.7" fill="#111" text-anchor="end">Stomach</text>
<rect x="471.90" y="257.18" width="11.6" height="14.62" fill="#ecdc9e" stroke="#5c5c5c" stroke-width="0.9"/>
<text transform="translate(480.30,279.2) rotate(-45)" font-family="Liberation Sans" font-weight="bold" font-size="7.7" fill="#111" text-anchor="end">Lung</text>
<rect x="484.80" y="257.18" width="11.6" height="14.62" fill="#ecdc9e" stroke="#5c5c5c" stroke-width="0.9"/>
<text transform="translate(493.20,279.2) rotate(-45)" font-family="Liberation Sans" font-weight="bold" font-size="7.7" fill="#111" text-anchor="end">Tonsil</text>
<rect x="497.70" y="257.27" width="11.6" height="14.53" fill="#ecdc9e" stroke="#5c5c5c" stroke-width="0.9"/>
<text transform="translate(506.10,279.2) rotate(-45)" font-family="Liberation Sans" font-weight="bold" font-size="7.7" fill="#111" text-anchor="end">Lymph node</text>
<rect x="510.60" y="257.44" width="11.6" height="14.36" fill="#ecdc9e" stroke="#5c5c5c" stroke-width="0.9"/>
<text transform="translate(519.00,279.2) rotate(-45)" font-family="Liberation Sans" font-weight="bold" font-size="7.7" fill="#111" text-anchor="end">Rectum</text>
<rect x="523.50" y="257.53" width="11.6" height="14.27" fill="#ecdc9e" stroke="#5c5c5c" stroke-width="0.9"/>
<text transform="translate(531.90,279.2) rotate(-45)" font-family="Liberation Sans" font-weight="bold" font-size="7.7" fill="#111" text-anchor="end">Cerebral cortex</text>
<path d="M331.00 200.70H335.40M333.20 198.50V202.90" stroke="#111" stroke-width="1.2" fill="none"/>
<path d="M336.00 200.70H340.40M338.20 198.50V202.90" stroke="#111" stroke-width="1.2" fill="none"/>
<line x1="341.80" y1="246.40" x2="346.20" y2="246.40" stroke="#222" stroke-width="1.2"/>
<line x1="348.40" y1="246.40" x2="352.80" y2="246.40" stroke="#222" stroke-width="1.2"/>
<path d="M359.10 246.70H363.30M361.20 244.60V248.80" stroke="#111" stroke-width="1.2" fill="none"/>
<path d="M372.10 250.50H376.30M374.20 248.40V252.60" stroke="#111" stroke-width="1.2" fill="none"/>
<line x1="383.50" y1="251.40" x2="388.10" y2="251.40" stroke="#222" stroke-width="1.2"/>
<line x1="396.60" y1="251.80" x2="401.00" y2="251.80" stroke="#222" stroke-width="1.2"/>
<path d="M410.90 251.60H415.10M413.00 249.50V253.70" stroke="#111" stroke-width="1.2" fill="none"/>
<line x1="422.30" y1="252.70" x2="427.00" y2="252.70" stroke="#222" stroke-width="1.2"/>
<line x1="432.50" y1="252.70" x2="436.90" y2="252.70" stroke="#222" stroke-width="1.2"/>
<line x1="439.10" y1="252.70" x2="443.50" y2="252.70" stroke="#222" stroke-width="1.2"/>
<path d="M449.80 252.10H454.00M451.90 250.00V254.20" stroke="#111" stroke-width="1.2" fill="none"/>
<path d="M462.80 252.10H467.00M464.90 250.00V254.20" stroke="#111" stroke-width="1.2" fill="none"/>
<line x1="474.40" y1="254.10" x2="479.00" y2="254.10" stroke="#222" stroke-width="1.2"/>
<line x1="484.60" y1="254.30" x2="489.00" y2="254.30" stroke="#222" stroke-width="1.2"/>
<line x1="491.20" y1="254.30" x2="495.60" y2="254.30" stroke="#222" stroke-width="1.2"/>
<line x1="497.60" y1="254.30" x2="502.00" y2="254.30" stroke="#222" stroke-width="1.2"/>
<line x1="504.20" y1="254.30" x2="508.60" y2="254.30" stroke="#222" stroke-width="1.2"/>
<line x1="510.20" y1="254.50" x2="514.60" y2="254.50" stroke="#222" stroke-width="1.2"/>
<line x1="516.80" y1="254.50" x2="521.20" y2="254.50" stroke="#222" stroke-width="1.2"/>
<line x1="526.50" y1="254.50" x2="530.60" y2="254.50" stroke="#222" stroke-width="1.2"/>
</svg></body></html>
